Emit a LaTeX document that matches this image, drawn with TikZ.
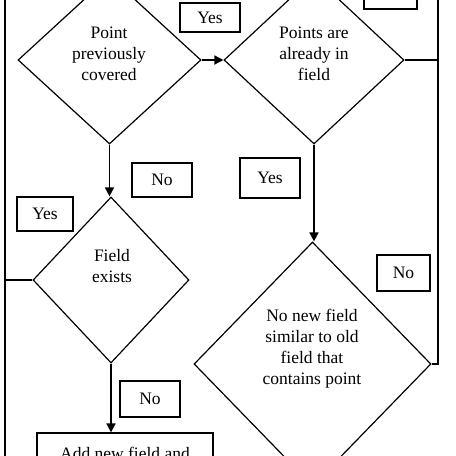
\documentclass[tikz,border=0pt]{standalone}
\usepackage{fontspec}
\setmainfont{Liberation Serif}
\usetikzlibrary{shapes.geometric,arrows.meta}
\begin{document}
\begin{tikzpicture}[x=1pt,y=-1pt,
  dia/.style={draw, shape=diamond, inner sep=0pt, line width=1.2pt},
  box/.style={draw, rectangle, inner sep=0pt, line width=1.2pt, font=\fontsize{17.5}{21}\selectfont},
  txt/.style={align=center, inner sep=0pt, font=\fontsize{17.5}{21}\selectfont},
  ln/.style={line width=1.2pt},
  arr/.style={line width=1.7pt, -{Triangle[length=9pt,width=9pt]}}]
\useasboundingbox (0,0) rectangle (456,456);
\clip (0,0) rectangle (456,456);
% diamonds
\node[dia, minimum width=183pt, minimum height=168pt] (d1) at (109.5,60) {};
\node[dia, minimum width=180pt, minimum height=168pt] (d2) at (314,60) {};
\node[dia, minimum width=156pt, minimum height=166pt] (d4) at (111,280) {};
\node[dia, minimum width=237pt, minimum height=244pt] (d3) at (312.5,364) {};
% diamond texts
\node[txt] (t1) at (109,54) {Point\\previously\\covered};
\node[txt] (t2) at (314,54) {Points are\\already in\\field};
\node[txt] (t4) at (112,266) {Field\\exists};
\node[txt] (t3) at (312,349) {No new field\\similar to old\\field that\\contains point};
% boxes
\node[box, minimum width=60pt, minimum height=29pt] (yes1) at (210,17.5) {Yes};
\node[box, minimum width=53pt, minimum height=19pt] (topbox) at (390.5,-0.5) {};
\node[box, minimum width=60pt, minimum height=34pt] (no1) at (162,180) {No};
\node[box, minimum width=56pt, minimum height=34pt] (yes2) at (45,214) {Yes};
\node[box, minimum width=60pt, minimum height=40pt] (yes3) at (270,178) {Yes};
\node[box, minimum width=53pt, minimum height=36pt] (no2) at (403.5,273) {No};
\node[box, minimum width=60pt, minimum height=36pt] (no3) at (150,399) {No};
\node[box, minimum width=176pt, minimum height=74pt] (add) at (125,470) {};
\node[txt, anchor=base] (addt) at (125,459) {Add new field and};
% coordinates
\coordinate (lt) at (5,0);
\coordinate (lb) at (5,456);
\coordinate (lm) at (5,280);
\coordinate (rt) at (438,0);
\coordinate (rm) at (438,60);
\coordinate (rb) at (438,364);
% connectors
\draw[ln] (lt) -- (lb);
\draw[ln] (lm) -- (d4.west);
\draw[ln] (rt) -- (rb) -- (d3.east);
\draw[ln] (d2.east) -- (rm);
\draw[arr] (d1.east) -- (d2.west);
\draw[arr] (d1.south) -- (d1.south |- d4.north);
\draw[arr] (d2.south) -- (d2.south |- d3.north);
\draw[arr] (d4.south) -- (d4.south |- add.north);
\end{tikzpicture}
\end{document}
